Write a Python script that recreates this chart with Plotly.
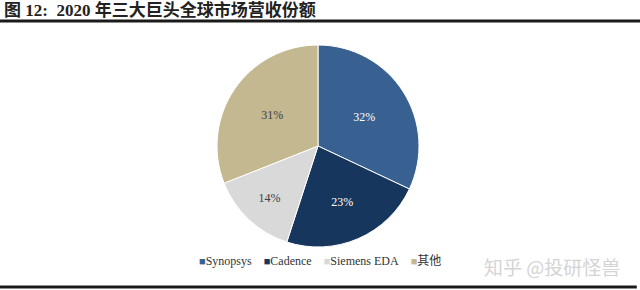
import plotly.graph_objects as go

labels = ["Synopsys", "Cadence", "Siemens EDA", "其他"]
values = [32, 23, 14, 31]
colors = ["#386192", "#17365D", "#D9D9D9", "#C4B890"]
text_colors = ["#FFFFFF", "#FFFFFF", "#404040", "#404040"]
title_text = "图 12:  2020 年三大巨头全球市场营收份额"
watermark = "知乎 @投研怪兽"

W, H = 640, 290
cx, cy, r = 318, 146, 101

fig = go.Figure(go.Pie(
    labels=labels, values=values, sort=False, direction="clockwise", rotation=0,
    marker=dict(colors=colors, line=dict(color="#FFFFFF", width=1)),
    textinfo="percent", texttemplate="%{percent:.0%}", textposition="inside",
    insidetextfont=dict(family="Liberation Serif, Noto Sans CJK SC", size=12, color=text_colors),
    domain=dict(x=[(cx - r) / W, (cx + r) / W], y=[1 - (cy + r) / H, 1 - (cy - r) / H]),
    hoverinfo="label+percent", showlegend=False,
))

# compact legend line (symbol + name), built from the label / colour arrays
sp = "\u00a0"
legend_text = (sp * 4).join(
    f"<span style='color:{c};font-size:11px'>■</span>{l}" for l, c in zip(labels, colors)
)

fig.update_layout(
    width=W, height=H, margin=dict(l=0, r=0, t=0, b=0),
    paper_bgcolor="white", plot_bgcolor="white",
    showlegend=False,
    font=dict(family="Liberation Serif, Noto Sans CJK SC"),
    annotations=[
        dict(text="<b>" + title_text + "</b>", x=2 / W, y=1 - 10 / H, xref="paper", yref="paper",
             xanchor="left", yanchor="middle", showarrow=False,
             font=dict(family="Liberation Serif, Noto Sans CJK SC", size=17, color="#222222")),
        dict(text=legend_text, x=320 / W, y=1 - 261 / H, xref="paper", yref="paper",
             xanchor="center", yanchor="middle", showarrow=False,
             font=dict(family="Liberation Serif, Noto Sans CJK SC", size=12, color="#333333")),
        dict(text=watermark, x=552 / W, y=1 - 266 / H, xref="paper", yref="paper",
             xanchor="center", yanchor="middle", showarrow=False,
             font=dict(family="Noto Sans CJK SC", size=19, color="#D4D4D4")),
    ],
    shapes=[
        dict(type="line", xref="paper", yref="paper", x0=0, x1=1, y0=1 - 21 / H, y1=1 - 21 / H,
             line=dict(color="#1A1A1A", width=3)),
        dict(type="line", xref="paper", yref="paper", x0=0, x1=0.995, y0=1 - 287 / H, y1=1 - 287 / H,
             line=dict(color="#1A1A1A", width=3)),
    ],
)

fig.write_html("out.html")
